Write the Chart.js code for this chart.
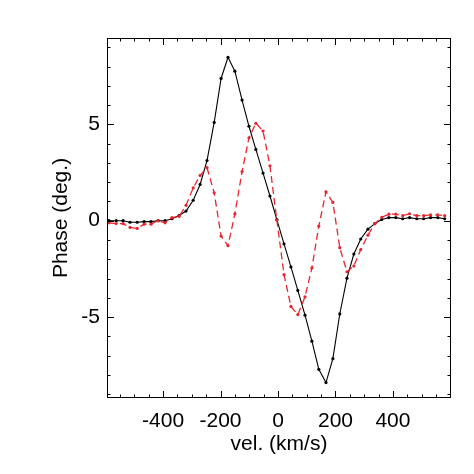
<!DOCTYPE html>
<html>
<head>
<meta charset="utf-8">
<script src="https://cdn.jsdelivr.net/npm/chart.js@4/dist/chart.umd.min.js"></script>
<style>
  html, body { margin: 0; padding: 0; background: #fff; }
</style>
</head>
<body>
<canvas id="phase" width="474" height="474"></canvas>
<script>
// ---------- DATA ----------
const velocities = [
  -588, -563, -539, -515, -490, -466, -442, -417, -393, -369, -344, -320, -295,
  -271, -247, -222, -198, -174, -150, -125, -101, -77, -52, -28, -4,
  21, 45, 69, 94, 118, 142, 167, 191, 215, 240, 264, 288, 313, 337,
  361, 386, 410, 434, 458, 483, 507, 531, 556, 580
];
const phaseBlack = [
  0.0, 0.0, 0.0, -0.08, -0.08, -0.05, -0.05, 0.0, 0.0, 0.1, 0.27, 0.5, 1.06,
  1.88, 3.12, 5.1, 7.38, 8.48, 7.76, 6.26, 4.9, 3.7, 2.47, 1.28, 0.06,
  -1.2, -2.4, -3.62, -4.9, -6.25, -7.71, -8.4, -7.16, -4.84, -2.98, -1.73, -0.95, -0.44, -0.15,
  0.06, 0.16, 0.16, 0.1, 0.16, 0.1, 0.1, 0.16, 0.16, 0.1
];
const phaseRed = [
  -0.11, -0.15, -0.15, -0.35, -0.4, -0.18, -0.18, 0.0, -0.11, 0.16, 0.22, 0.8, 1.7,
  2.35, 2.75, 1.45, -0.8, -1.3, 0.35, 2.55, 4.3, 5.05, 4.65, 2.85, 0.03,
  -2.8, -4.45, -4.87, -3.95, -2.45, -0.28, 1.5, 0.95, -1.4, -2.65, -2.35, -1.5, -0.75, -0.15,
  0.18, 0.34, 0.34, 0.26, 0.36, 0.26, 0.26, 0.3, 0.3, 0.26
];
const xTickLabels = [-400, -200, 0, 200, 400];
const yTickLabels = [-5, 0, 5];

// ---------- HELPERS ----------
const toPoints = ys => velocities.map((v, i) => ({ x: v, y: ys[i] }));

// inward ticks on all four sides, IDL style
const boxTicks = {
  id: "boxTicks",
  afterDraw(chart) {
    const { ctx, chartArea: a, scales } = chart;
    const xs = scales.x, ys = scales.y;
    ctx.save();
    ctx.strokeStyle = "#000";
    ctx.lineWidth = 1;
    ctx.strokeRect(a.left + 0.5, a.top + 0.5, a.right - a.left - 1, a.bottom - a.top - 1);
    ctx.beginPath();
    for (let v = Math.ceil(xs.min / 50) * 50; v <= xs.max; v += 50) {
      const px = Math.round(xs.getPixelForValue(v)) + 0.5;
      const len = v % 200 === 0 ? 7 : 3.5;
      ctx.moveTo(px, a.bottom); ctx.lineTo(px, a.bottom - len);
      ctx.moveTo(px, a.top); ctx.lineTo(px, a.top + len);
    }
    for (let v = Math.ceil(ys.min); v <= ys.max; v += 1) {
      const py = Math.round(ys.getPixelForValue(v)) + 0.5;
      const len = v % 5 === 0 ? 7 : 3.5;
      ctx.moveTo(a.left, py); ctx.lineTo(a.left + len, py);
      ctx.moveTo(a.right, py); ctx.lineTo(a.right - len, py);
    }
    ctx.stroke();
    ctx.restore();
  }
};

const FONT = "'Liberation Sans', Arial, Helvetica, sans-serif";

new Chart(document.getElementById("phase"), {
  type: "line",
  data: {
    datasets: [
      {
        data: toPoints(phaseRed),
        borderColor: "rgb(230,38,48)",
        backgroundColor: "rgb(230,38,48)",
        borderWidth: 1.3,
        borderDash: [7, 4],
        pointRadius: 1.6,
        pointBorderWidth: 0,
        tension: 0,
      },
      {
        data: toPoints(phaseBlack),
        borderColor: "#000",
        backgroundColor: "#000",
        borderWidth: 1.1,
        pointRadius: 1.6,
        pointBorderWidth: 0,
        tension: 0,
      },
    ],
  },
  options: {
    responsive: false,
    animation: false,
    maintainAspectRatio: false,
    devicePixelRatio: 1,
    layout: { padding: { top: 38, right: 23, left: 0, bottom: 0 } },
    plugins: { legend: { display: false }, tooltip: { enabled: false } },
    scales: {
      x: {
        type: "linear",
        min: -595,
        max: 602,
        afterFit: s => { s.height = 76; },
        afterBuildTicks: s => { s.ticks = xTickLabels.map(v => ({ value: v })); },
        grid: { drawOnChartArea: false, drawTicks: false },
        border: { display: false },
        ticks: { color: "#000", font: { family: FONT, size: 21 }, padding: 11, maxRotation: 0 },
        title: { display: true, text: "vel. (km/s)", color: "#000", font: { family: FONT, size: 21 }, padding: { top: 0, bottom: 17 } },
      },
      y: {
        type: "linear",
        min: -9.2,
        max: 9.48,
        afterFit: s => { s.width = 107; },
        afterBuildTicks: s => { s.ticks = yTickLabels.map(v => ({ value: v })); },
        grid: { drawOnChartArea: false, drawTicks: false },
        border: { display: false },
        ticks: { color: "#000", font: { family: FONT, size: 21 }, padding: 7 },
        title: { display: true, text: "Phase (deg.)", color: "#000", font: { family: FONT, size: 21 }, padding: { top: 49, bottom: 0 } },
      },
    },
  },
  plugins: [boxTicks],
});
</script>
</body>
</html>
